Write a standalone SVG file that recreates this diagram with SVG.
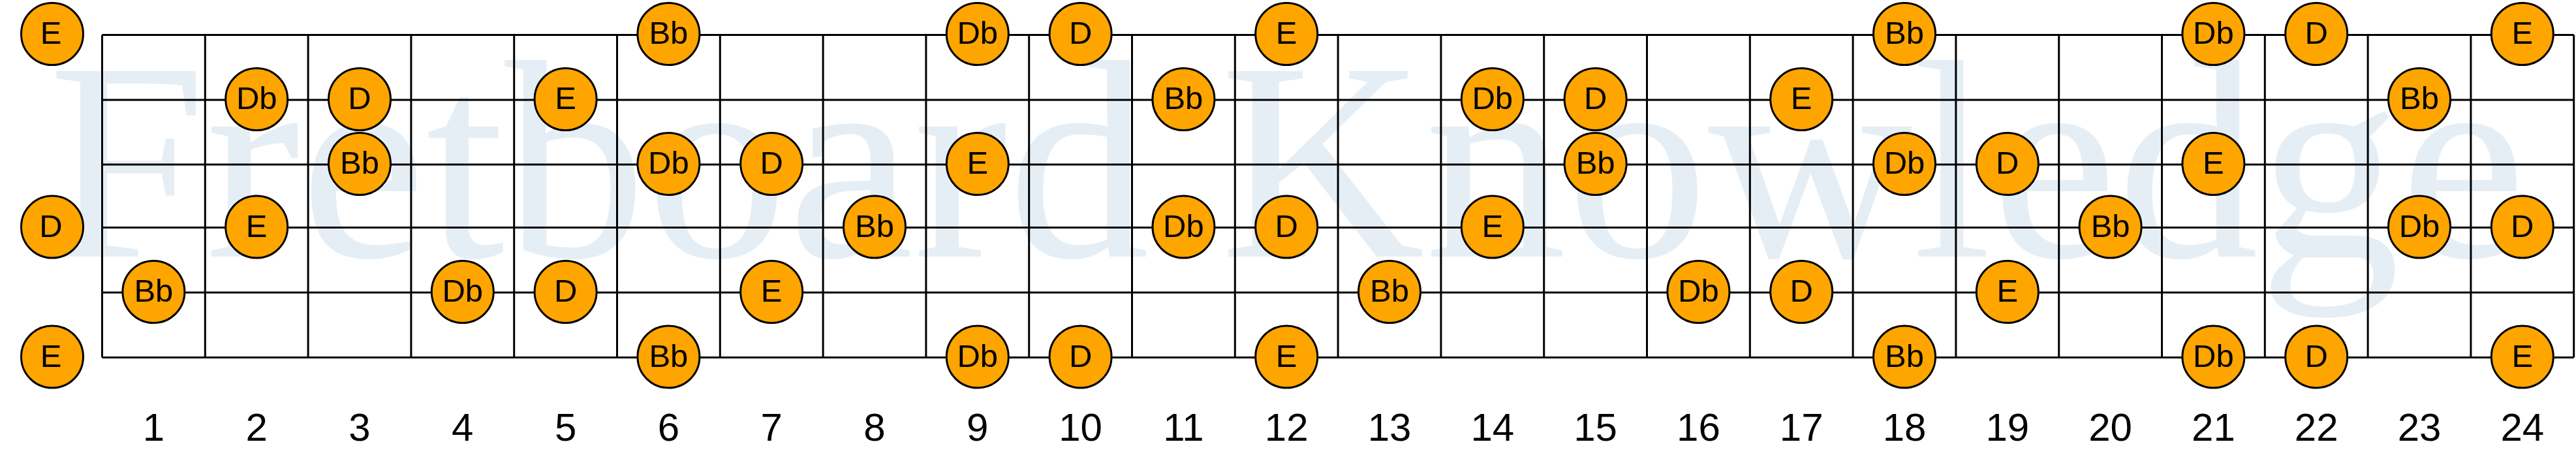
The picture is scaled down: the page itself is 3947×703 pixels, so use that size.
<svg xmlns="http://www.w3.org/2000/svg" width="3947" height="703" viewBox="0 0 3947 703">
<style>
.wm{font-family:"Liberation Serif","Times New Roman",serif;font-size:434px;fill:#E6EEF5}
.grid line{stroke:#000;stroke-width:3}
.n circle{fill:#FFA500;stroke:#000;stroke-width:3}
.n text{font-family:"Liberation Sans",Arial,sans-serif;font-size:49px;fill:#000;text-anchor:middle}
.num{font-family:"Liberation Sans",Arial,sans-serif;font-size:60px;fill:#000;text-anchor:middle}
</style>
<rect width="3947" height="703" fill="#fff"/>
<text class="wm" x="74" y="393">Fretboard Knowledge</text>
<g id="connectors" class="grid">
<line x1="156.5" y1="53.5" x2="3943.7" y2="53.5"/>
<line x1="156.5" y1="153" x2="3943.7" y2="153"/>
<line x1="156.5" y1="252" x2="3943.7" y2="252"/>
<line x1="156.5" y1="348.5" x2="3943.7" y2="348.5"/>
<line x1="156.5" y1="448" x2="3943.7" y2="448"/>
<line x1="156.5" y1="547.5" x2="3943.7" y2="547.5"/>
<line x1="156.5" y1="53.5" x2="156.5" y2="547.5"/>
<line x1="314.3" y1="53.5" x2="314.3" y2="547.5"/>
<line x1="472.1" y1="53.5" x2="472.1" y2="547.5"/>
<line x1="629.9" y1="53.5" x2="629.9" y2="547.5"/>
<line x1="787.7" y1="53.5" x2="787.7" y2="547.5"/>
<line x1="945.5" y1="53.5" x2="945.5" y2="547.5"/>
<line x1="1103.3" y1="53.5" x2="1103.3" y2="547.5"/>
<line x1="1261.1" y1="53.5" x2="1261.1" y2="547.5"/>
<line x1="1418.9" y1="53.5" x2="1418.9" y2="547.5"/>
<line x1="1576.7" y1="53.5" x2="1576.7" y2="547.5"/>
<line x1="1734.5" y1="53.5" x2="1734.5" y2="547.5"/>
<line x1="1892.3" y1="53.5" x2="1892.3" y2="547.5"/>
<line x1="2050.1" y1="53.5" x2="2050.1" y2="547.5"/>
<line x1="2207.9" y1="53.5" x2="2207.9" y2="547.5"/>
<line x1="2365.7" y1="53.5" x2="2365.7" y2="547.5"/>
<line x1="2523.5" y1="53.5" x2="2523.5" y2="547.5"/>
<line x1="2681.3" y1="53.5" x2="2681.3" y2="547.5"/>
<line x1="2839.1" y1="53.5" x2="2839.1" y2="547.5"/>
<line x1="2996.9" y1="53.5" x2="2996.9" y2="547.5"/>
<line x1="3154.7" y1="53.5" x2="3154.7" y2="547.5"/>
<line x1="3312.5" y1="53.5" x2="3312.5" y2="547.5"/>
<line x1="3470.3" y1="53.5" x2="3470.3" y2="547.5"/>
<line x1="3628.1" y1="53.5" x2="3628.1" y2="547.5"/>
<line x1="3785.9" y1="53.5" x2="3785.9" y2="547.5"/>
<line x1="3943.7" y1="53.5" x2="3943.7" y2="547.5"/>
</g>
<g id="fret-numbers">
<text class="num" x="235.4" y="675">1</text>
<text class="num" x="393.2" y="675">2</text>
<text class="num" x="551" y="675">3</text>
<text class="num" x="708.8" y="675">4</text>
<text class="num" x="866.6" y="675">5</text>
<text class="num" x="1024.4" y="675">6</text>
<text class="num" x="1182.2" y="675">7</text>
<text class="num" x="1340" y="675">8</text>
<text class="num" x="1497.8" y="675">9</text>
<text class="num" x="1655.6" y="675">10</text>
<text class="num" x="1813.4" y="675">11</text>
<text class="num" x="1971.2" y="675">12</text>
<text class="num" x="2129" y="675">13</text>
<text class="num" x="2286.8" y="675">14</text>
<text class="num" x="2444.6" y="675">15</text>
<text class="num" x="2602.4" y="675">16</text>
<text class="num" x="2760.2" y="675">17</text>
<text class="num" x="2918" y="675">18</text>
<text class="num" x="3075.8" y="675">19</text>
<text class="num" x="3233.6" y="675">20</text>
<text class="num" x="3391.4" y="675">21</text>
<text class="num" x="3549.2" y="675">22</text>
<text class="num" x="3707" y="675">23</text>
<text class="num" x="3864.8" y="675">24</text>
</g>
<!-- string 1 (high E) y=53.5 -->
<g id="s1-f0" class="n"><circle cx="80" cy="52" r="47.5"/><text x="78" y="67">E</text></g>
<g id="s1-f6" class="n"><circle cx="1024.4" cy="52" r="47.5"/><text x="1024.4" y="67">Bb</text></g>
<g id="s1-f9" class="n"><circle cx="1497.8" cy="52" r="47.5"/><text x="1497.8" y="67">Db</text></g>
<g id="s1-f10" class="n"><circle cx="1655.6" cy="52" r="47.5"/><text x="1655.6" y="67">D</text></g>
<g id="s1-f12" class="n"><circle cx="1971.2" cy="52" r="47.5"/><text x="1971.2" y="67">E</text></g>
<g id="s1-f18" class="n"><circle cx="2918" cy="52" r="47.5"/><text x="2918" y="67">Bb</text></g>
<g id="s1-f21" class="n"><circle cx="3391.4" cy="52" r="47.5"/><text x="3391.4" y="67">Db</text></g>
<g id="s1-f22" class="n"><circle cx="3549.2" cy="52" r="47.5"/><text x="3549.2" y="67">D</text></g>
<g id="s1-f24" class="n"><circle cx="3864.8" cy="52" r="47.5"/><text x="3864.8" y="67">E</text></g>
<!-- string 2 (B) y=153 -->
<g id="s2-f2" class="n"><circle cx="393.2" cy="152" r="47.5"/><text x="393.2" y="167">Db</text></g>
<g id="s2-f3" class="n"><circle cx="551" cy="152" r="47.5"/><text x="551" y="167">D</text></g>
<g id="s2-f5" class="n"><circle cx="866.6" cy="152" r="47.5"/><text x="866.6" y="167">E</text></g>
<g id="s2-f11" class="n"><circle cx="1813.4" cy="152" r="47.5"/><text x="1813.4" y="167">Bb</text></g>
<g id="s2-f14" class="n"><circle cx="2286.8" cy="152" r="47.5"/><text x="2286.8" y="167">Db</text></g>
<g id="s2-f15" class="n"><circle cx="2444.6" cy="152" r="47.5"/><text x="2444.6" y="167">D</text></g>
<g id="s2-f17" class="n"><circle cx="2760.2" cy="152" r="47.5"/><text x="2760.2" y="167">E</text></g>
<g id="s2-f23" class="n"><circle cx="3707" cy="152" r="47.5"/><text x="3707" y="167">Bb</text></g>
<!-- string 3 (G) y=252 -->
<g id="s3-f3" class="n"><circle cx="551" cy="251" r="47.5"/><text x="551" y="266">Bb</text></g>
<g id="s3-f6" class="n"><circle cx="1024.4" cy="251" r="47.5"/><text x="1024.4" y="266">Db</text></g>
<g id="s3-f7" class="n"><circle cx="1182.2" cy="251" r="47.5"/><text x="1182.2" y="266">D</text></g>
<g id="s3-f9" class="n"><circle cx="1497.8" cy="251" r="47.5"/><text x="1497.8" y="266">E</text></g>
<g id="s3-f15" class="n"><circle cx="2444.6" cy="251" r="47.5"/><text x="2444.6" y="266">Bb</text></g>
<g id="s3-f18" class="n"><circle cx="2918" cy="251" r="47.5"/><text x="2918" y="266">Db</text></g>
<g id="s3-f19" class="n"><circle cx="3075.8" cy="251" r="47.5"/><text x="3075.8" y="266">D</text></g>
<g id="s3-f21" class="n"><circle cx="3391.4" cy="251" r="47.5"/><text x="3391.4" y="266">E</text></g>
<!-- string 4 (D) y=348.5 -->
<g id="s4-f0" class="n"><circle cx="80" cy="347.5" r="47.5"/><text x="78" y="362.5">D</text></g>
<g id="s4-f2" class="n"><circle cx="393.2" cy="347.5" r="47.5"/><text x="393.2" y="362.5">E</text></g>
<g id="s4-f8" class="n"><circle cx="1340" cy="347.5" r="47.5"/><text x="1340" y="362.5">Bb</text></g>
<g id="s4-f11" class="n"><circle cx="1813.4" cy="347.5" r="47.5"/><text x="1813.4" y="362.5">Db</text></g>
<g id="s4-f12" class="n"><circle cx="1971.2" cy="347.5" r="47.5"/><text x="1971.2" y="362.5">D</text></g>
<g id="s4-f14" class="n"><circle cx="2286.8" cy="347.5" r="47.5"/><text x="2286.8" y="362.5">E</text></g>
<g id="s4-f20" class="n"><circle cx="3233.6" cy="347.5" r="47.5"/><text x="3233.6" y="362.5">Bb</text></g>
<g id="s4-f23" class="n"><circle cx="3707" cy="347.5" r="47.5"/><text x="3707" y="362.5">Db</text></g>
<g id="s4-f24" class="n"><circle cx="3864.8" cy="347.5" r="47.5"/><text x="3864.8" y="362.5">D</text></g>
<!-- string 5 (A) y=448 -->
<g id="s5-f1" class="n"><circle cx="235.4" cy="447" r="47.5"/><text x="235.4" y="462">Bb</text></g>
<g id="s5-f4" class="n"><circle cx="708.8" cy="447" r="47.5"/><text x="708.8" y="462">Db</text></g>
<g id="s5-f5" class="n"><circle cx="866.6" cy="447" r="47.5"/><text x="866.6" y="462">D</text></g>
<g id="s5-f7" class="n"><circle cx="1182.2" cy="447" r="47.5"/><text x="1182.2" y="462">E</text></g>
<g id="s5-f13" class="n"><circle cx="2129" cy="447" r="47.5"/><text x="2129" y="462">Bb</text></g>
<g id="s5-f16" class="n"><circle cx="2602.4" cy="447" r="47.5"/><text x="2602.4" y="462">Db</text></g>
<g id="s5-f17" class="n"><circle cx="2760.2" cy="447" r="47.5"/><text x="2760.2" y="462">D</text></g>
<g id="s5-f19" class="n"><circle cx="3075.8" cy="447" r="47.5"/><text x="3075.8" y="462">E</text></g>
<!-- string 6 (low E) y=547.5 -->
<g id="s6-f0" class="n"><circle cx="80" cy="546.5" r="47.5"/><text x="78" y="561.5">E</text></g>
<g id="s6-f6" class="n"><circle cx="1024.4" cy="546.5" r="47.5"/><text x="1024.4" y="561.5">Bb</text></g>
<g id="s6-f9" class="n"><circle cx="1497.8" cy="546.5" r="47.5"/><text x="1497.8" y="561.5">Db</text></g>
<g id="s6-f10" class="n"><circle cx="1655.6" cy="546.5" r="47.5"/><text x="1655.6" y="561.5">D</text></g>
<g id="s6-f12" class="n"><circle cx="1971.2" cy="546.5" r="47.5"/><text x="1971.2" y="561.5">E</text></g>
<g id="s6-f18" class="n"><circle cx="2918" cy="546.5" r="47.5"/><text x="2918" y="561.5">Bb</text></g>
<g id="s6-f21" class="n"><circle cx="3391.4" cy="546.5" r="47.5"/><text x="3391.4" y="561.5">Db</text></g>
<g id="s6-f22" class="n"><circle cx="3549.2" cy="546.5" r="47.5"/><text x="3549.2" y="561.5">D</text></g>
<g id="s6-f24" class="n"><circle cx="3864.8" cy="546.5" r="47.5"/><text x="3864.8" y="561.5">E</text></g>
</svg>
